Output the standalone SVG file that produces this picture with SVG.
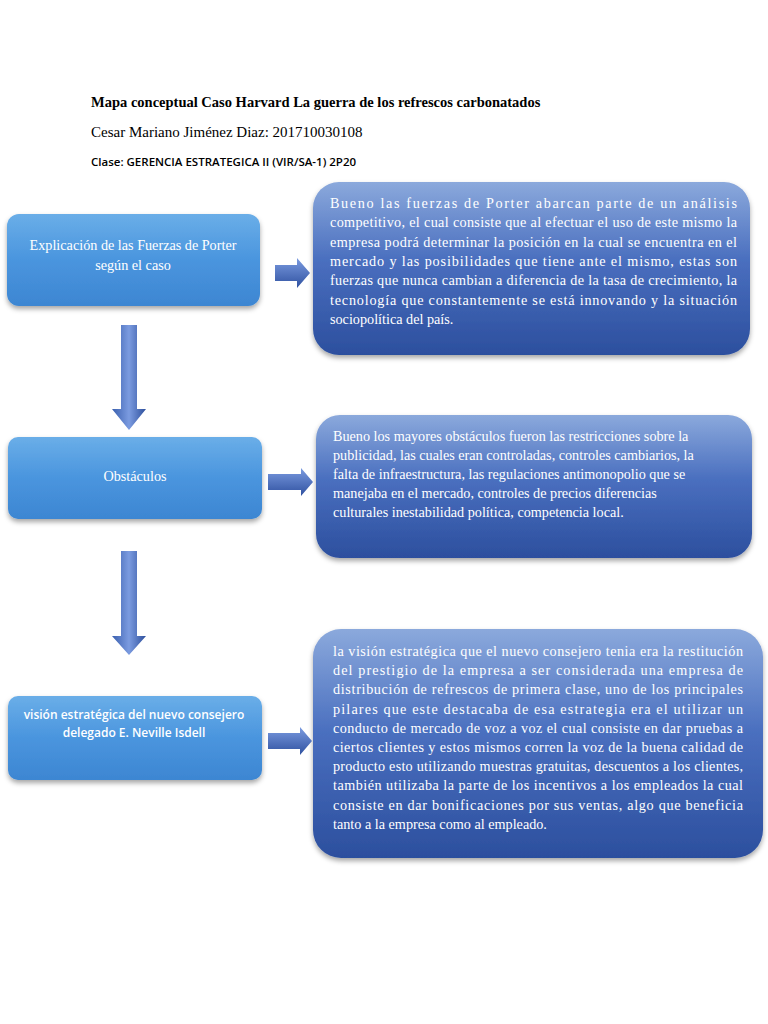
<svg xmlns="http://www.w3.org/2000/svg" width="768" height="1024" viewBox="0 0 768 1024">
<defs>
<linearGradient id="lb" x1="0" y1="0" x2="0" y2="1"><stop offset="0" stop-color="#6aaee8"/><stop offset="0.5" stop-color="#4a95de"/><stop offset="1" stop-color="#3d86d2"/></linearGradient>
<linearGradient id="db" x1="0" y1="0" x2="0" y2="1"><stop offset="0" stop-color="#8ba9dc"/><stop offset="0.45" stop-color="#4a6fbf"/><stop offset="1" stop-color="#2c4f9e"/></linearGradient>
<linearGradient id="ar" x1="0" y1="0" x2="1" y2="0"><stop offset="0" stop-color="#3a5fae"/><stop offset="0.5" stop-color="#7b9be0"/><stop offset="1" stop-color="#2d4f9c"/></linearGradient>
<linearGradient id="ah" x1="0" y1="0" x2="0" y2="1"><stop offset="0" stop-color="#7b9be0"/><stop offset="1" stop-color="#2f51a0"/></linearGradient>
<filter id="sh" x="-10%" y="-10%" width="120%" height="130%"><feDropShadow dx="0" dy="3" stdDeviation="2.5" flood-color="#000" flood-opacity="0.35"/></filter>
</defs>
<style>
.t{font-family:"Liberation Serif",serif;fill:#fff;font-size:14.2px}
.h{font-family:"Liberation Serif",serif;fill:#000}
.c{font-family:"Open Sans","DejaVu Sans",sans-serif;fill:#fff;font-size:12px;font-weight:600}
</style>
<rect width="768" height="1024" fill="#fff"/>
<text class="h" x="91" y="107" font-size="14.5" font-weight="bold">Mapa conceptual Caso Harvard La guerra de los refrescos carbonatados</text>
<text class="h" x="91" y="137" font-size="15">Cesar Mariano Jiménez Diaz: 201710030108</text>
<text x="91" y="166" font-family="'Open Sans','DejaVu Sans',sans-serif" font-size="11.5" font-weight="600">Clase: GERENCIA ESTRATEGICA II (VIR/SA-1) 2P20</text>

<g id="n1"><rect x="7" y="214" width="253" height="92" rx="12" fill="url(#lb)" filter="url(#sh)"/>
<text class="t" x="133" y="250" text-anchor="middle">Explicación de las Fuerzas de Porter</text><text class="t" x="133" y="270" text-anchor="middle">según el caso</text></g>
<g id="n2"><rect x="313" y="182" width="437" height="173" rx="26" fill="url(#db)" filter="url(#sh)"/>
<g class="t"><text x="330" y="208" textLength="407" lengthAdjust="spacing">Bueno las fuerzas de Porter abarcan parte de un análisis</text>
<text x="330" y="227" textLength="407" lengthAdjust="spacing">competitivo, el cual consiste que al efectuar el uso de este mismo la</text>
<text x="330" y="247" textLength="407" lengthAdjust="spacing">empresa podrá determinar la posición en la cual se encuentra en el</text>
<text x="330" y="266" textLength="407" lengthAdjust="spacing">mercado y las posibilidades que tiene ante el mismo, estas son</text>
<text x="330" y="285" textLength="407" lengthAdjust="spacing">fuerzas que nunca cambian a diferencia de la tasa de crecimiento, la</text>
<text x="330" y="305" textLength="407" lengthAdjust="spacing">tecnología que constantemente se está innovando y la situación</text>
<text x="330" y="324">sociopolítica del país.</text></g></g>
<g id="n3"><rect x="8" y="437" width="254" height="82" rx="10" fill="url(#lb)" filter="url(#sh)"/>
<text class="t" x="135" y="481" text-anchor="middle">Obstáculos</text></g>
<g id="n4"><rect x="316" y="415" width="436" height="143" rx="24" fill="url(#db)" filter="url(#sh)"/>
<g class="t"><text x="333" y="441">Bueno los mayores obstáculos fueron las restricciones sobre la</text>
<text x="333" y="460">publicidad, las cuales eran controladas, controles cambiarios, la</text>
<text x="333" y="479">falta de infraestructura, las regulaciones antimonopolio que se</text>
<text x="333" y="498">manejaba en el mercado, controles de precios diferencias</text>
<text x="333" y="517">culturales inestabilidad política, competencia local.</text></g></g>
<g id="n5"><rect x="8" y="696" width="254" height="84" rx="10" fill="url(#lb)" filter="url(#sh)"/>
<text class="c" x="134" y="719" text-anchor="middle">visión estratégica del nuevo consejero</text><text class="c" x="134" y="737" text-anchor="middle">delegado E. Neville Isdell</text></g>
<g id="n6"><rect x="313" y="629" width="450" height="229" rx="28" fill="url(#db)" filter="url(#sh)"/>
<g class="t"><text x="333" y="656" textLength="410" lengthAdjust="spacing">la visión estratégica que el nuevo consejero tenia era la restitución</text>
<text x="333" y="675" textLength="410" lengthAdjust="spacing">del prestigio de la empresa a ser considerada una empresa de</text>
<text x="333" y="694" textLength="410" lengthAdjust="spacing">distribución de refrescos de primera clase, uno de los principales</text>
<text x="333" y="714" textLength="410" lengthAdjust="spacing">pilares que este destacaba de esa estrategia era el utilizar un</text>
<text x="333" y="733" textLength="410" lengthAdjust="spacing">conducto de mercado de voz a voz el cual consiste en dar pruebas a</text>
<text x="333" y="752" textLength="410" lengthAdjust="spacing">ciertos clientes y estos mismos corren la voz de la buena calidad de</text>
<text x="333" y="771" textLength="410" lengthAdjust="spacing">producto esto utilizando muestras gratuitas, descuentos a los clientes,</text>
<text x="333" y="790" textLength="410" lengthAdjust="spacing">también utilizaba la parte de los incentivos a los empleados la cual</text>
<text x="333" y="810" textLength="410" lengthAdjust="spacing">consiste en dar bonificaciones por sus ventas, algo que beneficia</text>
<text x="333" y="829">tanto a la empresa como al empleado.</text></g></g>

<g id="connectors">
<path d="M275,265 H297 V258 L310,273 L297,288 V281 H275 Z" fill="url(#ah)"/>
<path d="M268,474 H301 V468 L313,482 L301,496 V490 H268 Z" fill="url(#ah)"/>
<path d="M268,733 H300 V727 L312,741 L300,755 V749 H268 Z" fill="url(#ah)"/>
<path d="M121,325 H137 V409 H146 L129,430 L112,409 H121 Z" fill="url(#ar)"/>
<path d="M121,551 H137 V636 H146 L129,655 L112,636 H121 Z" fill="url(#ar)"/>
</g>
</svg>
